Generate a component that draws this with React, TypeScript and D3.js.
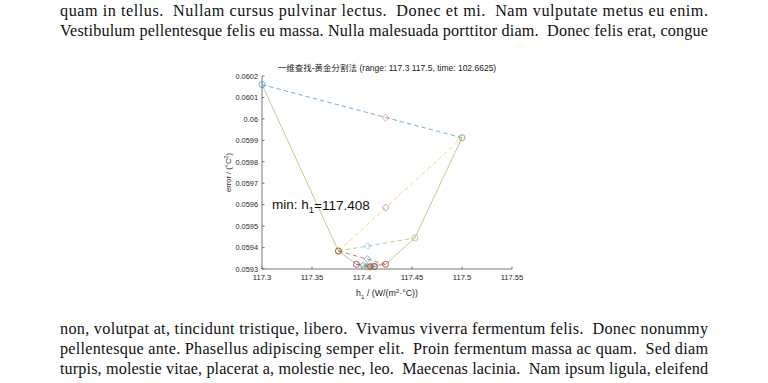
import React from "react";
import * as d3 from "d3";

const topLines = [
  "quam in tellus.  Nullam cursus pulvinar lectus.  Donec et mi.  Nam vulputate metus eu enim.",
  "Vestibulum pellentesque felis eu massa. Nulla malesuada porttitor diam.  Donec felis erat, congue",
];
const bottomLines = [
  "non, volutpat at, tincidunt tristique, libero.  Vivamus viverra fermentum felis.  Donec nonummy",
  "pellentesque ante. Phasellus adipiscing semper elit.  Proin fermentum massa ac quam.  Sed diam",
  "turpis, molestie vitae, placerat a, molestie nec, leo.  Maecenas lacinia.  Nam ipsum ligula, eleifend",
];

const xTicks = [117.3, 117.35, 117.4, 117.45, 117.5, 117.55];
const yTicks = [0.0593, 0.0594, 0.0595, 0.0596, 0.0597, 0.0598, 0.0599, 0.06, 0.0601, 0.0602];

// evaluated samples (sorted by h1)
const sampleH = [117.3, 117.3764, 117.3944, 117.4012, 117.4056, 117.4081, 117.4098, 117.4124, 117.4236, 117.4528, 117.5];
const sampleErr = [0.06016, 0.059384, 0.059322, 0.059313, 0.05931, 0.059309, 0.05931, 0.059312, 0.059322, 0.059445, 0.059912];

// search intervals per iteration
const iterA = [117.3, 117.3764, 117.3764, 117.3764, 117.3944, 117.3944, 117.4012, 117.4056, 117.4056];
const iterB = [117.5, 117.5, 117.4528, 117.4236, 117.4236, 117.4124, 117.4124, 117.4124, 117.4098];
const iterFA = [0.06016, 0.059384, 0.059384, 0.059384, 0.059322, 0.059322, 0.059313, 0.05931, 0.05931];
const iterFB = [0.059912, 0.059912, 0.059445, 0.059322, 0.059322, 0.059312, 0.059312, 0.059312, 0.05931];
const probeH = [117.4236, 117.4236, 117.4056, 117.4056, 117.4124, 117.4012, 117.4081, 117.4098, 117.4081];
const probeErr = [0.060005, 0.059586, 0.059407, 0.059346, 0.059322, 0.059318, 0.059312, 0.059311, 0.05931];

const minLabel = "117.408";
const titleText = "一维查找-黄金分割法 (range: 117.3 117.5, time: 102.6625)";

const colors = ["#0072BD", "#D95319", "#EDB120", "#7E2F8E", "#77AC30", "#4DBEEE", "#A2142F"];

export default function App() {
  const x = d3.scaleLinear().domain([117.3, 117.55]).range([262, 512]);
  const y = d3.scaleLinear().domain([0.0593, 0.0602]).range([269, 76]);
  const line = d3.line<number>().x((_, i) => x(sampleH[i])).y((d) => y(d));
  const sans = "'Liberation Sans', Arial, 'Noto Sans CJK SC', sans-serif";
  const serif = "'Liberation Serif', 'Times New Roman', serif";
  const axisColor = "#555";
  const diamond = (r: number) => `M0,${-r}L${r},0L0,${r}L${-r},0Z`;

  return (
    <svg width={768} height={383} style={{ position: "absolute", left: 0, top: 0, background: "#fff" }}>
      {topLines.map((t, i) => (
        <text key={"t" + i} x={60} y={16 + i * 20} fontFamily={serif} fontSize={16.2} textLength={648} lengthAdjust="spacing" fill="#111" xmlSpace="preserve">{t}</text>
      ))}
      {bottomLines.map((t, i) => (
        <text key={"b" + i} x={60} y={334 + i * 20} fontFamily={serif} fontSize={16.2} textLength={648} lengthAdjust="spacing" fill="#111" xmlSpace="preserve">{t}</text>
      ))}

      {/* title */}
      <text x={387} y={71} textAnchor="middle" fontFamily={sans} fontSize={8.5} fill="#222">{titleText}</text>

      {/* axes */}
      <line x1={262} x2={512} y1={269} y2={269} stroke={axisColor} strokeWidth={0.8} />
      <line x1={262} x2={262} y1={76} y2={269} stroke={axisColor} strokeWidth={0.8} />
      {xTicks.map((t) => (
        <g key={"xt" + t}>
          <line x1={x(t)} x2={x(t)} y1={269} y2={266.5} stroke={axisColor} strokeWidth={0.8} />
          <text x={x(t)} y={280} textAnchor="middle" fontFamily={sans} fontSize={7.6} fill="#262626">{String(t)}</text>
        </g>
      ))}
      {yTicks.map((t) => (
        <g key={"yt" + t}>
          <line x1={262} x2={264.5} y1={y(t)} y2={y(t)} stroke={axisColor} strokeWidth={0.8} />
          <text x={258} y={y(t) + 2.8} textAnchor="end" fontFamily={sans} fontSize={7.4} fill="#262626">{String(t)}</text>
        </g>
      ))}
      <text x={387} y={296} textAnchor="middle" fontFamily={sans} fontSize={8.8} fill="#262626">
        h<tspan fontSize={6.2} dy={2.5}>1</tspan><tspan dy={-2.5}> / (W/(m</tspan><tspan fontSize={6.2} dy={-3}>2</tspan><tspan dy={3}>·°C))</tspan>
      </text>
      <text transform={`translate(230.5,${(76 + 269) / 2}) rotate(-90)`} textAnchor="middle" fontFamily={sans} fontSize={7.6} fill="#262626">
        error / (°C<tspan fontSize={5.6} dy={-3}>2</tspan><tspan dy={3}>)</tspan>
      </text>

      {/* final sampled curve */}
      <path d={line(sampleErr) || ""} fill="none" stroke="#77AC30" strokeWidth={0.65} opacity={0.85} />

      {/* iterations */}
      {iterA.map((a, i) => {
        const c = colors[(2 * i) % 7];
        const cd = colors[(2 * i + 1) % 7];
        return (
          <g key={"it" + i} opacity={0.85}>
            <line x1={x(a)} y1={y(iterFA[i])} x2={x(iterB[i])} y2={y(iterFB[i])} stroke={c} strokeWidth={0.65} strokeDasharray="4.5,3" />
            <circle cx={x(a)} cy={y(iterFA[i])} r={3} fill="none" stroke={c} strokeWidth={0.6} />
            <circle cx={x(iterB[i])} cy={y(iterFB[i])} r={3} fill="none" stroke={c} strokeWidth={0.6} />
            <path d={diamond(3.4)} transform={`translate(${x(probeH[i])},${y(probeErr[i])})`} fill="none" stroke={cd} strokeWidth={0.6} />
          </g>
        );
      })}

      <text x={x(117.31)} y={y(0.0596)} dominantBaseline="central" fontFamily={sans} fontSize={13.5} fill="#111">
        min: h<tspan fontSize={9.5} dy={4}>1</tspan><tspan dy={-4}>={minLabel}</tspan>
      </text>
    </svg>
  );
}
